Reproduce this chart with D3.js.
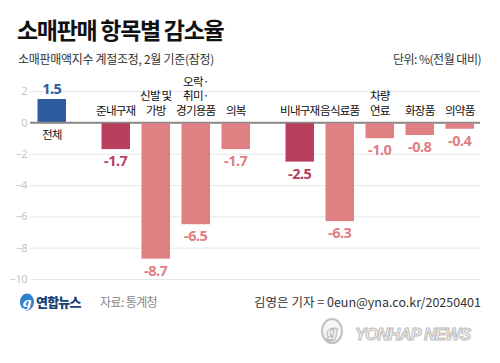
<!DOCTYPE html>
<html>
<head>
<meta charset="utf-8">
<script src="https://cdn.jsdelivr.net/npm/d3@7"></script>
<style>
  body { margin: 0; background: #fff; }
  text { font-family: "Noto Sans CJK KR", "Noto Sans", sans-serif; }
</style>
</head>
<body>
<div id="chart"></div>
<script>
// Chart data
var categories = ["전체", "준내구재", "신발 및|가방", "오락·|취미·|경기용품", "의복",
  "비내구재", "음식료품", "차량|연료", "화장품", "의약품"];
var values = [1.5, -1.7, -8.7, -6.5, -1.7, -2.5, -6.3, -1.0, -0.8, -0.4];
// which group each bar belongs to (0 = total, 1 = semi-durable, 2 = non-durable)
var groups = [0, 1, 1, 1, 1, 2, 2, 2, 2, 2];
// 0 = total, 1 = group total, 2 = item
var kinds = [0, 1, 2, 2, 2, 1, 2, 2, 2, 2];
var yTicks = [2, 0, -2, -4, -6, -8, -10];

var svgWidth = 500;
var svgHeight = 363;

var colors = ["#2e5c9f", "#b8405c", "#e08083"];

var svg = d3
  .select("#chart")
  .append("svg")
  .attr("width", svgWidth)
  .attr("height", svgHeight);

// Scales
var yScale = d3.scaleLinear().domain([-10, 2]).range([279, 91.2]);

// bar slot position: index plus a gap between the groups
var groupGap = 0.6;
var xScale = d3
  .scaleLinear()
  .domain([0, 1])
  .range([37.5, 77.5]);
function slotX(i) {
  return xScale(i + groups[i] * groupGap);
}
var barWidth = 28.5;

// Title and subtitle
svg.append("text")
  .attr("x", 17)
  .attr("y", 39)
  .attr("font-size", 23)
  .attr("font-weight", 700)
  .attr("letter-spacing", -1.3)
  .attr("fill", "#111")
  .text("소매판매 항목별 감소율");

svg.append("text")
  .attr("x", 18)
  .attr("y", 64)
  .attr("font-size", 12)
  .attr("letter-spacing", -0.3)
  .attr("fill", "#333")
  .text("소매판매액지수 계절조정, 2월 기준(잠정)");

svg.append("text")
  .attr("x", 481)
  .attr("y", 64)
  .attr("font-size", 12)
  .attr("letter-spacing", -0.5)
  .attr("text-anchor", "end")
  .attr("fill", "#333")
  .text("단위: %(전월 대비)");

// Grid lines and y tick labels
var leftAxis = d3.axisLeft(yScale)
  .tickValues(yTicks)
  .tickSize(-450)
  .tickPadding(3)
  .tickFormat(d3.format("d"));

var yAxis = svg.append("g")
  .attr("transform", "translate(30, 0)")
  .call(leftAxis);
yAxis.select(".domain").remove();
yAxis.selectAll(".tick line")
  .attr("stroke", function (d) { return d === 0 ? "#8a8a8a" : "#e6e6e6"; })
  .attr("stroke-width", function (d) { return d === 0 ? 1.3 : 1; });
yAxis.selectAll(".tick text")
  .attr("fill", "#c4c4c4")
  .attr("font-size", 11)
  .attr("letter-spacing", -0.5)
  .style("font-family", "\"Noto Sans\", sans-serif");

// Bars
svg.selectAll("rect.bar")
  .data(values)
  .enter()
  .append("rect")
  .attr("class", "bar")
  .attr("x", function (d, i) { return slotX(i); })
  .attr("y", function (d) { return yScale(Math.max(0, d)); })
  .attr("width", barWidth)
  .attr("height", function (d) { return Math.abs(yScale(d) - yScale(0)); })
  .attr("fill", function (d, i) { return colors[kinds[i]]; });

// Redraw zero line on top of bars
svg.append("line")
  .attr("x1", 30)
  .attr("x2", 480)
  .attr("y1", yScale(0))
  .attr("y2", yScale(0))
  .attr("stroke", "#8a8a8a")
  .attr("stroke-width", 1.3);

// Value labels
svg.selectAll("text.val")
  .data(values)
  .enter()
  .append("text")
  .attr("class", "val")
  .attr("x", function (d, i) { return slotX(i) + barWidth / 2; })
  .attr("y", function (d) { return d >= 0 ? yScale(d) - 5 : yScale(d) + 17; })
  .attr("text-anchor", "middle")
  .attr("font-size", 14.5)
  .attr("font-weight", 700)
  .attr("letter-spacing", -0.5)
  .style("font-family", "\"Noto Sans\", sans-serif")
  .attr("fill", function (d, i) { return colors[kinds[i]]; })
  .text(function (d) { return d.toFixed(1); });

// Category labels: one text element per line (split by "|")
var labelLines = [];
categories.forEach(function (c, i) {
  var lines = c.split("|");
  lines.forEach(function (line, j) {
    labelLines.push({ text: line, i: i, j: j, n: lines.length });
  });
});

svg.selectAll("text.cat")
  .data(labelLines)
  .enter()
  .append("text")
  .attr("class", "cat")
  .attr("text-anchor", "middle")
  .attr("font-size", 11.6)
  .attr("letter-spacing", -0.8)
  .attr("fill", "#111")
  .attr("x", function (d) { return slotX(d.i) + barWidth / 2; })
  .attr("y", function (d) {
    if (values[d.i] >= 0) return yScale(0) + 16 + d.j * 14.5;
    return yScale(0) - 8 - (d.n - 1 - d.j) * 14.5;
  })
  .text(function (d) { return d.text; });

// Footer: logo and source
var logo = svg.append("g").attr("transform", "translate(27, 302)");
logo.append("ellipse")
  .attr("rx", 7)
  .attr("ry", 8.5)
  .attr("fill", "#2f7fd0");
logo.append("text")
  .attr("x", 0)
  .attr("y", 4.5)
  .attr("text-anchor", "middle")
  .attr("font-size", 13)
  .attr("font-style", "italic")
  .attr("font-weight", 700)
  .attr("fill", "#fff")
  .style("font-family", "\"DejaVu Serif\", serif")
  .text("g");

svg.append("text")
  .attr("x", 36)
  .attr("y", 307)
  .attr("font-size", 13)
  .attr("font-weight", 900)
  .attr("letter-spacing", -0.8)
  .attr("fill", "#173f78")
  .text("연합뉴스");

svg.append("text")
  .attr("x", 100)
  .attr("y", 307)
  .attr("font-size", 12)
  .attr("letter-spacing", -0.6)
  .attr("fill", "#888")
  .text("자료: 통계청");

svg.append("text")
  .attr("x", 481)
  .attr("y", 307)
  .attr("font-size", 12.5)
  .attr("letter-spacing", 0)
  .attr("text-anchor", "end")
  .attr("fill", "#333")
  .text("김영은 기자 = 0eun@yna.co.kr/20250401");

// Watermark
var wm = svg.append("g").attr("opacity", 0.9);
wm.append("ellipse")
  .attr("cx", 332)
  .attr("cy", 331)
  .attr("rx", 10)
  .attr("ry", 12)
  .attr("fill", "#f6f6f6")
  .attr("stroke", "#bdbdbd")
  .attr("stroke-width", 2);
wm.append("text")
  .attr("x", 332)
  .attr("y", 337)
  .attr("text-anchor", "middle")
  .attr("font-size", 17)
  .attr("font-style", "italic")
  .attr("font-weight", 700)
  .attr("fill", "#f6f6f6")
  .attr("stroke", "#b0b0b0")
  .attr("stroke-width", 1)
  .style("font-family", "\"DejaVu Serif\", serif")
  .text("g");
wm.append("text")
  .attr("x", 355)
  .attr("y", 340)
  .attr("font-size", 16.5)
  .attr("font-style", "italic")
  .attr("font-weight", 900)
  .attr("letter-spacing", -0.8)
  .attr("fill", "#f6f6f6")
  .attr("stroke", "#b5b5b5")
  .attr("stroke-width", 1)
  .style("font-family", "\"Liberation Sans\", sans-serif")
  .text("YONHAP NEWS");
</script>
</body>
</html>
